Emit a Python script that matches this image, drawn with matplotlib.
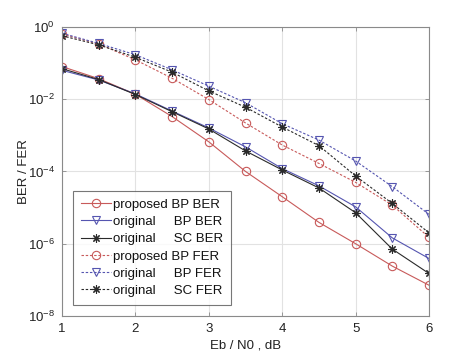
import math
import matplotlib
matplotlib.use("Agg")
import matplotlib.pyplot as plt
from matplotlib.ticker import FixedLocator, FuncFormatter, NullLocator

plt.rcParams['font.family'] = ['Liberation Sans', 'DejaVu Sans']
plt.rcParams['mathtext.default'] = 'regular'

ebn0 = [1, 1.5, 2, 2.5, 3, 3.5, 4, 4.5, 5, 5.5, 6]

prop_bp_ber = [0.08, 0.037, 0.0137, 0.0033, 6.6e-4, 1.0e-4, 2.0e-5, 3.9e-6, 1.0e-6, 2.4e-7, 7.1e-8]
orig_bp_ber = [0.063, 0.034, 0.014, 0.0047, 0.0016, 4.8e-4, 1.2e-4, 4.0e-5, 1.05e-5, 1.45e-6, 3.9e-7]
orig_sc_ber = [0.07, 0.035, 0.0135, 0.0045, 0.0015, 3.7e-4, 1.1e-4, 3.5e-5, 7.2e-6, 7.1e-7, 1.5e-7]

prop_bp_fer = [0.63, 0.34, 0.123, 0.038, 0.0098, 0.0022, 5.4e-4, 1.67e-4, 5.0e-5, 1.17e-5, 1.5e-6]
orig_bp_fer = [0.67, 0.35, 0.17, 0.065, 0.023, 0.008, 0.0021, 7.4e-4, 1.95e-4, 3.8e-5, 6.5e-6]
orig_sc_fer = [0.57, 0.32, 0.145, 0.056, 0.017, 0.006, 0.0017, 5.2e-4, 7.5e-5, 1.3e-5, 2.0e-6]

labels = ['proposed BP BER', 'original     BP BER', 'original     SC BER',
          'proposed BP FER', 'original     BP FER', 'original     SC FER']

red = '#c85a5a'
blue = '#5555b0'
black = '#2a2a2a'
dash = (0, (2.2, 1.6))
star = (8, 2, 0)

fig = plt.figure(figsize=(4.74, 3.55), dpi=100)
ax = fig.add_axes([0.131, 0.110, 0.774, 0.814])

series = [
    (prop_bp_ber, red, 'o', '-'),
    (orig_bp_ber, blue, 'v', '-'),
    (orig_sc_ber, black, star, '-'),
    (prop_bp_fer, red, 'o', dash),
    (orig_bp_fer, blue, 'v', dash),
    (orig_sc_fer, black, star, dash),
]
for (vals, c, m, ls), lab in zip(series, labels):
    ax.semilogy(ebn0, vals, color=c, marker=m, linestyle=ls, linewidth=0.8,
                markersize=6, markerfacecolor='none', markeredgecolor=c,
                markeredgewidth=0.8, label=lab)

ax.set_xlim(1, 6)
ax.set_ylim(1e-8, 1)
ax.xaxis.set_major_locator(FixedLocator([1, 2, 3, 4, 5, 6]))
ax.yaxis.set_major_locator(FixedLocator([1e-8, 1e-6, 1e-4, 1e-2, 1]))
ax.yaxis.set_minor_locator(NullLocator())
ax.yaxis.set_major_formatter(FuncFormatter(lambda v, p: r'$10^{%d}$' % round(math.log10(v))))

ax.grid(True, color='#e2e2e2', linewidth=0.8)
ax.set_axisbelow(True)
for s in ax.spines.values():
    s.set_color('#8a8a8a')
    s.set_linewidth(0.8)
ax.tick_params(direction='in', top=True, right=True, length=3, width=0.6,
               color='#8a8a8a', labelsize=9.5, labelcolor='#222222', pad=5)

ax.set_xlabel('Eb / N0 , dB', fontsize=9.5, color='#222222', labelpad=3)
ax.set_ylabel('BER / FER', fontsize=9.5, color='#222222')
ax.yaxis.set_label_coords(-0.087, 0.5)

leg = ax.legend(loc='lower left', bbox_to_anchor=(0.03, 0.038), fontsize=9.5,
                frameon=True, fancybox=False, edgecolor='#555555',
                handlelength=2.25, handletextpad=0.2, labelspacing=0.38,
                borderpad=0.6, borderaxespad=0)
leg.get_frame().set_linewidth(0.8)
for t in leg.get_texts():
    t.set_color('#111111')

fig.savefig('out.png', dpi=100)
